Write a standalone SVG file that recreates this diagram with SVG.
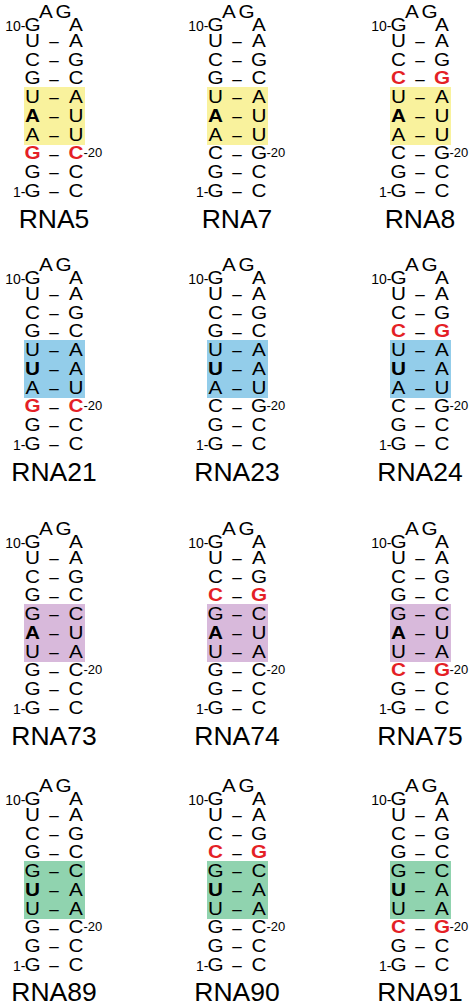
<svg xmlns="http://www.w3.org/2000/svg" width="474" height="1007" viewBox="0 0 474 1007">
<style>
text{font-family:'Liberation Sans',Arial,sans-serif;fill:#000}
.c text{font-size:18.5px;text-anchor:middle}
.b{font-weight:bold}
.r{font-weight:bold;fill:#e41f26}
.d text{font-size:17px;text-anchor:middle}
.s{font-size:14px;text-anchor:end}
.t{font-size:13px}
.lab{font-size:26.5px;text-anchor:middle}
.y{fill:#f9f29d}.bl{fill:#93cdea}.pu{fill:#d8b9db}.gr{fill:#90d3af}
</style>
<rect width="474" height="1007" fill="#fff"/>

<g id="rna5" transform="translate(0,0)">
<rect class="y" x="24" y="87" width="61" height="58"/>
<g class="c" transform="scale(1.12,1)"><text x="41.1" y="18">A</text><text x="56.7" y="18">G</text></g>
<g class="c" transform="translate(32.5,0) scale(1.12,1)"><text y="31.5">G</text><text y="47">U</text><text y="65.75">C</text><text y="84.5">G</text><text y="103.25">U</text><text y="122" class="b">A</text><text y="140.75">A</text><text y="159.5" class="r">G</text><text y="178.25">G</text><text y="197">G</text></g>
<g class="c" transform="translate(76,0) scale(1.12,1)"><text y="31.5">A</text><text y="47">A</text><text y="65.75">G</text><text y="84.5">C</text><text y="103.25">A</text><text y="122">U</text><text y="140.75">U</text><text y="159.5" class="r">C</text><text y="178.25">C</text><text y="197">C</text></g>
<g class="d"><text x="54" y="47">–</text><text x="54" y="65.75">–</text><text x="54" y="84.5">–</text><text x="54" y="103.25">–</text><text x="54" y="122">–</text><text x="54" y="140.75">–</text><text x="54" y="159.5">–</text><text x="54" y="178.25">–</text><text x="54" y="197">–</text></g>
<text class="s" x="25.5" y="30.5">10-</text><text class="s" x="25.5" y="197">1-</text><text class="t" x="83.5" y="157">-20</text>
<text class="lab" x="54" y="228">RNA5</text>
</g>

<g id="rna7" transform="translate(183,0)">
<rect class="y" x="24" y="87" width="61" height="58"/>
<g class="c" transform="scale(1.12,1)"><text x="41.1" y="18">A</text><text x="56.7" y="18">G</text></g>
<g class="c" transform="translate(32.5,0) scale(1.12,1)"><text y="31.5">G</text><text y="47">U</text><text y="65.75">C</text><text y="84.5">G</text><text y="103.25">U</text><text y="122" class="b">A</text><text y="140.75">A</text><text y="159.5">C</text><text y="178.25">G</text><text y="197">G</text></g>
<g class="c" transform="translate(76,0) scale(1.12,1)"><text y="31.5">A</text><text y="47">A</text><text y="65.75">G</text><text y="84.5">C</text><text y="103.25">A</text><text y="122">U</text><text y="140.75">U</text><text y="159.5">G</text><text y="178.25">C</text><text y="197">C</text></g>
<g class="d"><text x="54" y="47">–</text><text x="54" y="65.75">–</text><text x="54" y="84.5">–</text><text x="54" y="103.25">–</text><text x="54" y="122">–</text><text x="54" y="140.75">–</text><text x="54" y="159.5">–</text><text x="54" y="178.25">–</text><text x="54" y="197">–</text></g>
<text class="s" x="25.5" y="30.5">10-</text><text class="s" x="25.5" y="197">1-</text><text class="t" x="83.5" y="157">-20</text>
<text class="lab" x="54" y="228">RNA7</text>
</g>

<g id="rna8" transform="translate(366,0)">
<rect class="y" x="24" y="87" width="61" height="58"/>
<g class="c" transform="scale(1.12,1)"><text x="41.1" y="18">A</text><text x="56.7" y="18">G</text></g>
<g class="c" transform="translate(32.5,0) scale(1.12,1)"><text y="31.5">G</text><text y="47">U</text><text y="65.75">C</text><text y="84.5" class="r">C</text><text y="103.25">U</text><text y="122" class="b">A</text><text y="140.75">A</text><text y="159.5">C</text><text y="178.25">G</text><text y="197">G</text></g>
<g class="c" transform="translate(76,0) scale(1.12,1)"><text y="31.5">A</text><text y="47">A</text><text y="65.75">G</text><text y="84.5" class="r">G</text><text y="103.25">A</text><text y="122">U</text><text y="140.75">U</text><text y="159.5">G</text><text y="178.25">C</text><text y="197">C</text></g>
<g class="d"><text x="54" y="47">–</text><text x="54" y="65.75">–</text><text x="54" y="84.5">–</text><text x="54" y="103.25">–</text><text x="54" y="122">–</text><text x="54" y="140.75">–</text><text x="54" y="159.5">–</text><text x="54" y="178.25">–</text><text x="54" y="197">–</text></g>
<text class="s" x="25.5" y="30.5">10-</text><text class="s" x="25.5" y="197">1-</text><text class="t" x="83.5" y="157">-20</text>
<text class="lab" x="54" y="228">RNA8</text>
</g>

<g id="rna21" transform="translate(0,253)">
<rect class="bl" x="24" y="87" width="61" height="58"/>
<g class="c" transform="scale(1.12,1)"><text x="41.1" y="18">A</text><text x="56.7" y="18">G</text></g>
<g class="c" transform="translate(32.5,0) scale(1.12,1)"><text y="31.5">G</text><text y="47">U</text><text y="65.75">C</text><text y="84.5">G</text><text y="103.25">U</text><text y="122" class="b">U</text><text y="140.75">A</text><text y="159.5" class="r">G</text><text y="178.25">G</text><text y="197">G</text></g>
<g class="c" transform="translate(76,0) scale(1.12,1)"><text y="31.5">A</text><text y="47">A</text><text y="65.75">G</text><text y="84.5">C</text><text y="103.25">A</text><text y="122">A</text><text y="140.75">U</text><text y="159.5" class="r">C</text><text y="178.25">C</text><text y="197">C</text></g>
<g class="d"><text x="54" y="47">–</text><text x="54" y="65.75">–</text><text x="54" y="84.5">–</text><text x="54" y="103.25">–</text><text x="54" y="122">–</text><text x="54" y="140.75">–</text><text x="54" y="159.5">–</text><text x="54" y="178.25">–</text><text x="54" y="197">–</text></g>
<text class="s" x="25.5" y="30.5">10-</text><text class="s" x="25.5" y="197">1-</text><text class="t" x="83.5" y="157">-20</text>
<text class="lab" x="54" y="228">RNA21</text>
</g>

<g id="rna23" transform="translate(183,253)">
<rect class="bl" x="24" y="87" width="61" height="58"/>
<g class="c" transform="scale(1.12,1)"><text x="41.1" y="18">A</text><text x="56.7" y="18">G</text></g>
<g class="c" transform="translate(32.5,0) scale(1.12,1)"><text y="31.5">G</text><text y="47">U</text><text y="65.75">C</text><text y="84.5">G</text><text y="103.25">U</text><text y="122" class="b">U</text><text y="140.75">A</text><text y="159.5">C</text><text y="178.25">G</text><text y="197">G</text></g>
<g class="c" transform="translate(76,0) scale(1.12,1)"><text y="31.5">A</text><text y="47">A</text><text y="65.75">G</text><text y="84.5">C</text><text y="103.25">A</text><text y="122">A</text><text y="140.75">U</text><text y="159.5">G</text><text y="178.25">C</text><text y="197">C</text></g>
<g class="d"><text x="54" y="47">–</text><text x="54" y="65.75">–</text><text x="54" y="84.5">–</text><text x="54" y="103.25">–</text><text x="54" y="122">–</text><text x="54" y="140.75">–</text><text x="54" y="159.5">–</text><text x="54" y="178.25">–</text><text x="54" y="197">–</text></g>
<text class="s" x="25.5" y="30.5">10-</text><text class="s" x="25.5" y="197">1-</text><text class="t" x="83.5" y="157">-20</text>
<text class="lab" x="54" y="228">RNA23</text>
</g>

<g id="rna24" transform="translate(366,253)">
<rect class="bl" x="24" y="87" width="61" height="58"/>
<g class="c" transform="scale(1.12,1)"><text x="41.1" y="18">A</text><text x="56.7" y="18">G</text></g>
<g class="c" transform="translate(32.5,0) scale(1.12,1)"><text y="31.5">G</text><text y="47">U</text><text y="65.75">C</text><text y="84.5" class="r">C</text><text y="103.25">U</text><text y="122" class="b">U</text><text y="140.75">A</text><text y="159.5">C</text><text y="178.25">G</text><text y="197">G</text></g>
<g class="c" transform="translate(76,0) scale(1.12,1)"><text y="31.5">A</text><text y="47">A</text><text y="65.75">G</text><text y="84.5" class="r">G</text><text y="103.25">A</text><text y="122">A</text><text y="140.75">U</text><text y="159.5">G</text><text y="178.25">C</text><text y="197">C</text></g>
<g class="d"><text x="54" y="47">–</text><text x="54" y="65.75">–</text><text x="54" y="84.5">–</text><text x="54" y="103.25">–</text><text x="54" y="122">–</text><text x="54" y="140.75">–</text><text x="54" y="159.5">–</text><text x="54" y="178.25">–</text><text x="54" y="197">–</text></g>
<text class="s" x="25.5" y="30.5">10-</text><text class="s" x="25.5" y="197">1-</text><text class="t" x="83.5" y="157">-20</text>
<text class="lab" x="54" y="228">RNA24</text>
</g>

<g id="rna73" transform="translate(0,517)">
<rect class="pu" x="24" y="87" width="61" height="58"/>
<g class="c" transform="scale(1.12,1)"><text x="41.1" y="18">A</text><text x="56.7" y="18">G</text></g>
<g class="c" transform="translate(32.5,0) scale(1.12,1)"><text y="31.5">G</text><text y="47">U</text><text y="65.75">C</text><text y="84.5">G</text><text y="103.25">G</text><text y="122" class="b">A</text><text y="140.75">U</text><text y="159.5">G</text><text y="178.25">G</text><text y="197">G</text></g>
<g class="c" transform="translate(76,0) scale(1.12,1)"><text y="31.5">A</text><text y="47">A</text><text y="65.75">G</text><text y="84.5">C</text><text y="103.25">C</text><text y="122">U</text><text y="140.75">A</text><text y="159.5">C</text><text y="178.25">C</text><text y="197">C</text></g>
<g class="d"><text x="54" y="47">–</text><text x="54" y="65.75">–</text><text x="54" y="84.5">–</text><text x="54" y="103.25">–</text><text x="54" y="122">–</text><text x="54" y="140.75">–</text><text x="54" y="159.5">–</text><text x="54" y="178.25">–</text><text x="54" y="197">–</text></g>
<text class="s" x="25.5" y="30.5">10-</text><text class="s" x="25.5" y="197">1-</text><text class="t" x="83.5" y="157">-20</text>
<text class="lab" x="54" y="228">RNA73</text>
</g>

<g id="rna74" transform="translate(183,517)">
<rect class="pu" x="24" y="87" width="61" height="58"/>
<g class="c" transform="scale(1.12,1)"><text x="41.1" y="18">A</text><text x="56.7" y="18">G</text></g>
<g class="c" transform="translate(32.5,0) scale(1.12,1)"><text y="31.5">G</text><text y="47">U</text><text y="65.75">C</text><text y="84.5" class="r">C</text><text y="103.25">G</text><text y="122" class="b">A</text><text y="140.75">U</text><text y="159.5">G</text><text y="178.25">G</text><text y="197">G</text></g>
<g class="c" transform="translate(76,0) scale(1.12,1)"><text y="31.5">A</text><text y="47">A</text><text y="65.75">G</text><text y="84.5" class="r">G</text><text y="103.25">C</text><text y="122">U</text><text y="140.75">A</text><text y="159.5">C</text><text y="178.25">C</text><text y="197">C</text></g>
<g class="d"><text x="54" y="47">–</text><text x="54" y="65.75">–</text><text x="54" y="84.5">–</text><text x="54" y="103.25">–</text><text x="54" y="122">–</text><text x="54" y="140.75">–</text><text x="54" y="159.5">–</text><text x="54" y="178.25">–</text><text x="54" y="197">–</text></g>
<text class="s" x="25.5" y="30.5">10-</text><text class="s" x="25.5" y="197">1-</text><text class="t" x="83.5" y="157">-20</text>
<text class="lab" x="54" y="228">RNA74</text>
</g>

<g id="rna75" transform="translate(366,517)">
<rect class="pu" x="24" y="87" width="61" height="58"/>
<g class="c" transform="scale(1.12,1)"><text x="41.1" y="18">A</text><text x="56.7" y="18">G</text></g>
<g class="c" transform="translate(32.5,0) scale(1.12,1)"><text y="31.5">G</text><text y="47">U</text><text y="65.75">C</text><text y="84.5">G</text><text y="103.25">G</text><text y="122" class="b">A</text><text y="140.75">U</text><text y="159.5" class="r">C</text><text y="178.25">G</text><text y="197">G</text></g>
<g class="c" transform="translate(76,0) scale(1.12,1)"><text y="31.5">A</text><text y="47">A</text><text y="65.75">G</text><text y="84.5">C</text><text y="103.25">C</text><text y="122">U</text><text y="140.75">A</text><text y="159.5" class="r">G</text><text y="178.25">C</text><text y="197">C</text></g>
<g class="d"><text x="54" y="47">–</text><text x="54" y="65.75">–</text><text x="54" y="84.5">–</text><text x="54" y="103.25">–</text><text x="54" y="122">–</text><text x="54" y="140.75">–</text><text x="54" y="159.5">–</text><text x="54" y="178.25">–</text><text x="54" y="197">–</text></g>
<text class="s" x="25.5" y="30.5">10-</text><text class="s" x="25.5" y="197">1-</text><text class="t" x="83.5" y="157">-20</text>
<text class="lab" x="54" y="228">RNA75</text>
</g>

<g id="rna89" transform="translate(0,774)">
<rect class="gr" x="24" y="87" width="61" height="58"/>
<g class="c" transform="scale(1.12,1)"><text x="41.1" y="18">A</text><text x="56.7" y="18">G</text></g>
<g class="c" transform="translate(32.5,0) scale(1.12,1)"><text y="31.5">G</text><text y="47">U</text><text y="65.75">C</text><text y="84.5">G</text><text y="103.25">G</text><text y="122" class="b">U</text><text y="140.75">U</text><text y="159.5">G</text><text y="178.25">G</text><text y="197">G</text></g>
<g class="c" transform="translate(76,0) scale(1.12,1)"><text y="31.5">A</text><text y="47">A</text><text y="65.75">G</text><text y="84.5">C</text><text y="103.25">C</text><text y="122">A</text><text y="140.75">A</text><text y="159.5">C</text><text y="178.25">C</text><text y="197">C</text></g>
<g class="d"><text x="54" y="47">–</text><text x="54" y="65.75">–</text><text x="54" y="84.5">–</text><text x="54" y="103.25">–</text><text x="54" y="122">–</text><text x="54" y="140.75">–</text><text x="54" y="159.5">–</text><text x="54" y="178.25">–</text><text x="54" y="197">–</text></g>
<text class="s" x="25.5" y="30.5">10-</text><text class="s" x="25.5" y="197">1-</text><text class="t" x="83.5" y="157">-20</text>
<text class="lab" x="54" y="227">RNA89</text>
</g>

<g id="rna90" transform="translate(183,774)">
<rect class="gr" x="24" y="87" width="61" height="58"/>
<g class="c" transform="scale(1.12,1)"><text x="41.1" y="18">A</text><text x="56.7" y="18">G</text></g>
<g class="c" transform="translate(32.5,0) scale(1.12,1)"><text y="31.5">G</text><text y="47">U</text><text y="65.75">C</text><text y="84.5" class="r">C</text><text y="103.25">G</text><text y="122" class="b">U</text><text y="140.75">U</text><text y="159.5">G</text><text y="178.25">G</text><text y="197">G</text></g>
<g class="c" transform="translate(76,0) scale(1.12,1)"><text y="31.5">A</text><text y="47">A</text><text y="65.75">G</text><text y="84.5" class="r">G</text><text y="103.25">C</text><text y="122">A</text><text y="140.75">A</text><text y="159.5">C</text><text y="178.25">C</text><text y="197">C</text></g>
<g class="d"><text x="54" y="47">–</text><text x="54" y="65.75">–</text><text x="54" y="84.5">–</text><text x="54" y="103.25">–</text><text x="54" y="122">–</text><text x="54" y="140.75">–</text><text x="54" y="159.5">–</text><text x="54" y="178.25">–</text><text x="54" y="197">–</text></g>
<text class="s" x="25.5" y="30.5">10-</text><text class="s" x="25.5" y="197">1-</text><text class="t" x="83.5" y="157">-20</text>
<text class="lab" x="54" y="227">RNA90</text>
</g>

<g id="rna91" transform="translate(366,774)">
<rect class="gr" x="24" y="87" width="61" height="58"/>
<g class="c" transform="scale(1.12,1)"><text x="41.1" y="18">A</text><text x="56.7" y="18">G</text></g>
<g class="c" transform="translate(32.5,0) scale(1.12,1)"><text y="31.5">G</text><text y="47">U</text><text y="65.75">C</text><text y="84.5">G</text><text y="103.25">G</text><text y="122" class="b">U</text><text y="140.75">U</text><text y="159.5" class="r">C</text><text y="178.25">G</text><text y="197">G</text></g>
<g class="c" transform="translate(76,0) scale(1.12,1)"><text y="31.5">A</text><text y="47">A</text><text y="65.75">G</text><text y="84.5">C</text><text y="103.25">C</text><text y="122">A</text><text y="140.75">A</text><text y="159.5" class="r">G</text><text y="178.25">C</text><text y="197">C</text></g>
<g class="d"><text x="54" y="47">–</text><text x="54" y="65.75">–</text><text x="54" y="84.5">–</text><text x="54" y="103.25">–</text><text x="54" y="122">–</text><text x="54" y="140.75">–</text><text x="54" y="159.5">–</text><text x="54" y="178.25">–</text><text x="54" y="197">–</text></g>
<text class="s" x="25.5" y="30.5">10-</text><text class="s" x="25.5" y="197">1-</text><text class="t" x="83.5" y="157">-20</text>
<text class="lab" x="54" y="227">RNA91</text>
</g>
</svg>
